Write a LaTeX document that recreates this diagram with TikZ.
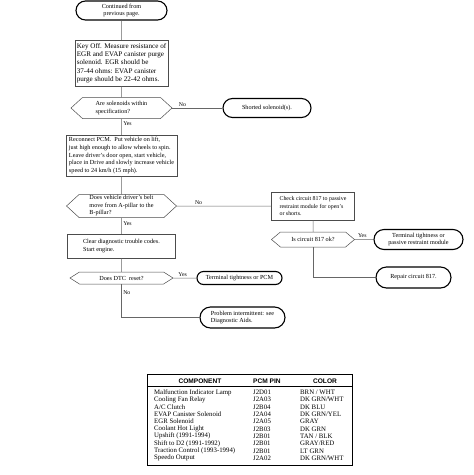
\documentclass[tikz,border=0pt]{standalone}
\usepackage{fontspec}
\setmainfont{Liberation Serif}
\setsansfont{Liberation Sans}
\usetikzlibrary{shapes.misc,shapes.symbols}

\tikzset{
  term/.style={rounded rectangle, draw, line width=1.1pt, inner sep=1pt, align=center, font=\fontsize{6.2}{7.5}\selectfont},
  procbox/.style={rectangle, draw=black!70, line width=0.5pt, inner sep=2pt, align=left, font=\fontsize{6.2}{7.8}\selectfont},
  decide/.style={signal, signal to=west and east, signal pointer angle=85, draw=black!70, line width=0.5pt, inner sep=1pt, align=left, font=\fontsize{6.2}{7.5}\selectfont},
  conn/.style={draw=black!60, line width=0.5pt},
  lbl/.style={font=\fontsize{5.8}{7}\selectfont, inner sep=1.5pt},
  hdr/.style={font=\sffamily\bfseries\fontsize{6.6}{7}\selectfont, inner sep=0pt},
  cell/.style={font=\fontsize{6.8}{7}\selectfont, inner sep=0pt, anchor=west},
}

\begin{document}
\begin{tikzpicture}[x=1pt,y=-1pt]
\useasboundingbox (0,0) rectangle (474,475);

% main column
\node[term, minimum width=93, minimum height=19] (start) at (121.5,10.5) {Continued from\\previous page.};
\node[procbox, font=\fontsize{7.1}{8.3}\selectfont, minimum width=93, minimum height=46] (measure) at (121.5,63) {Key Off. Measure resistance of\\EGR and EVAP canister purge\\solenoid. EGR should be\\37-44 ohms: EVAP canister\\purge should be 22-42 ohms.};
\node[decide, minimum width=101, minimum height=21] (solok) at (121.5,108) {Are solenoids within\\specification?};
\node[procbox, minimum width=111, minimum height=41] (reconnect) at (121.5,155.5) {Reconnect PCM.\ \ Put vehicle on lift,\\just high enough to allow wheels to spin.\\Leave driver's door open, start vehicle,\\place in Drive and slowly increase vehicle\\speed to 24 km/h (15 mph).};
\node[decide, minimum width=110, minimum height=23] (beltok) at (121.5,206) {Does vehicle driver's belt\\move from A-pillar to the\\B-pillar?};
\node[procbox, minimum width=108, minimum height=24] (clear) at (121.5,246) {Clear diagnostic trouble codes.\\Start engine.};
\node[decide, signal pointer angle=65, minimum width=103, minimum height=12] (dtc) at (121.5,278) {Does DTC\ \ reset?};

% right side
\node[term, minimum width=90, minimum height=19] (shorted) at (267,108) {Shorted solenoid(s).};
\node[procbox, font=\fontsize{5.9}{7.5}\selectfont, minimum width=83, minimum height=28] (check) at (313,206) {Check circuit 817 to passive\\restraint module for open's\\or shorts.};
\node[decide, signal pointer angle=80, minimum width=83, minimum height=15] (circok) at (313,239.5) {Is circuit 817 ok?};
\node[term, minimum width=91, minimum height=20] (restraint) at (418.5,239.5) {Terminal tightness or\\passive restraint module};
\node[term, minimum width=77, minimum height=21] (repair) at (413.5,277.5) {Repair circuit 817.};
\node[term, minimum width=87, minimum height=13] (pcm) at (239.5,278) {Terminal tightness or PCM};
\node[term, minimum width=87, minimum height=21, align=left] (intermit) at (242.5,317.5) {Problem intermittent: see\\Diagnostic Aids.};

% connectors
\draw[conn] (start) -- (measure);
\draw[conn] (measure) -- (solok);
\draw[conn] (solok) -- node[lbl, above, pos=0.2]{No} (shorted);
\draw[conn] (solok) -- node[lbl, right, pos=0.3]{Yes} (reconnect);
\draw[conn] (reconnect) -- (beltok);
\draw[conn] (beltok) -- node[lbl, above, pos=0.23]{No} (check);
\draw[conn] (beltok) -- node[lbl, right, pos=0.35]{Yes} (clear);
\draw[conn] (clear) -- (dtc);
\draw[conn] (dtc) -- node[lbl, above, pos=0.4]{Yes} (pcm);
\draw[conn] (dtc.south) |- node[lbl, right, pos=0.12]{No} (intermit.west);
\draw[conn] (check) -- (circok);
\draw[conn] (circok) -- node[lbl, above, pos=0.4]{Yes} (restraint);
\draw[conn] (circok.south) |- (repair.west);

% table
\node[draw, line width=0.5pt, minimum width=205, minimum height=91, inner sep=0pt] (tbl) at (249.5,419.5) {};
\draw[line width=1.2pt] (tbl.north east) -- (tbl.south east) -- (tbl.south west);
\coordinate (hline) at (0,386);
\draw[line width=0.6pt] (tbl.west |- hline) -- (tbl.east |- hline);
\node[hdr] (hcomp) at (200,381) {COMPONENT};
\node[hdr] (hpin) at (267,381) {PCM PIN};
\node[hdr] (hcol) at (325,381) {COLOR};
\foreach \comp/\pin/\col [count=\i] in {
  {Malfunction Indicator Lamp}/{J2D01}/{BRN / WHT},
  {Cooling Fan Relay}/{J2A03}/{DK GRN/WHT},
  {A/C Clutch}/{J2B04}/{DK BLU},
  {EVAP Canister Solenoid}/{J2A04}/{DK GRN/YEL},
  {EGR Solenoid}/{J2A05}/{GRAY},
  {Coolant Hot Light}/{J2B03}/{DK GRN},
  {Upshift (1991-1994)}/{J2B01}/{TAN / BLK},
  {Shift to D2 (1991-1992)}/{J2B01}/{GRAY/RED},
  {Traction Control (1993-1994)}/{J2B01}/{LT GRN},
  {Speedo Output}/{J2A02}/{DK GRN/WHT}} {
  \node[cell] (comp\i) at (154,385+7.33*\i) {\comp};
  \node[cell] (pin\i) at (253,385+7.33*\i) {\pin};
  \node[cell] (col\i) at (300,385+7.33*\i) {\col};
}
\end{tikzpicture}
\end{document}
